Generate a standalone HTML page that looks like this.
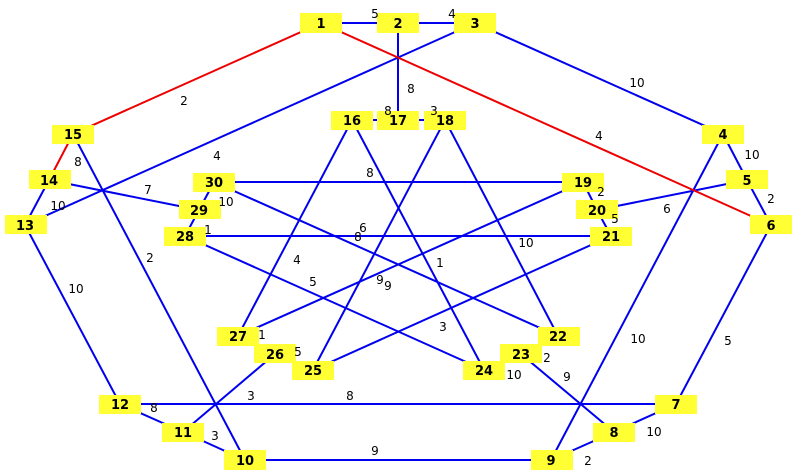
<!DOCTYPE html>
<html><head><style>body{margin:0;background:#fff}svg{display:block}</style></head><body>
<svg width="798" height="475" xmlns="http://www.w3.org/2000/svg" font-family="DejaVu Sans, Liberation Sans, sans-serif">
<g stroke="#0000ee" stroke-width="2" fill="none">
<line x1="321" y1="23" x2="398" y2="23"/><line x1="398" y1="23" x2="475" y2="23"/>
<line x1="398" y1="23" x2="398" y2="120"/><line x1="475" y1="23" x2="723" y2="134"/>
<line x1="475" y1="23" x2="25" y2="225"/><line x1="73" y1="134" x2="245" y2="460"/>
<line x1="49" y1="180" x2="25" y2="225"/><line x1="49" y1="180" x2="199" y2="210"/>
<line x1="25" y1="225" x2="120" y2="404"/><line x1="120" y1="404" x2="676" y2="404"/>
<line x1="120" y1="404" x2="183" y2="432"/><line x1="183" y1="432" x2="275" y2="354"/>
<line x1="183" y1="432" x2="245" y2="460"/><line x1="245" y1="460" x2="551" y2="460"/>
<line x1="551" y1="460" x2="614" y2="432"/><line x1="614" y1="432" x2="676" y2="404"/>
<line x1="676" y1="404" x2="771" y2="225"/><line x1="771" y1="225" x2="747" y2="180"/>
<line x1="747" y1="180" x2="723" y2="134"/><line x1="723" y1="134" x2="551" y2="460"/>
<line x1="747" y1="180" x2="597" y2="210"/><line x1="521" y1="354" x2="614" y2="432"/>
<line x1="352" y1="120" x2="445" y2="120"/>
<line x1="352" y1="120" x2="238" y2="336"/><line x1="352" y1="120" x2="484" y2="370"/>
<line x1="445" y1="120" x2="313" y2="370"/><line x1="445" y1="120" x2="558" y2="336"/>
<line x1="214" y1="182" x2="583" y2="182"/><line x1="214" y1="182" x2="558" y2="336"/>
<line x1="583" y1="182" x2="238" y2="336"/><line x1="583" y1="182" x2="597" y2="210"/>
<line x1="597" y1="210" x2="611" y2="236"/><line x1="611" y1="236" x2="185" y2="236"/>
<line x1="611" y1="236" x2="313" y2="370"/><line x1="185" y1="236" x2="484" y2="370"/>
<line x1="214" y1="182" x2="199" y2="210"/><line x1="199" y1="210" x2="185" y2="236"/>
<line x1="558" y1="336" x2="521" y2="354"/><line x1="521" y1="354" x2="484" y2="370"/>
<line x1="238" y1="336" x2="275" y2="354"/><line x1="275" y1="354" x2="313" y2="370"/>
</g>
<g stroke="#ee0000" stroke-width="2">
<line x1="321" y1="23" x2="73" y2="134"/><line x1="321" y1="23" x2="771" y2="225"/>
<line x1="73" y1="134" x2="49" y2="180"/>
</g>
<g fill="#ffff33">
<rect x="300" y="13" width="42" height="20"/><rect x="377" y="13" width="42" height="20"/><rect x="454" y="13" width="42" height="20"/>
<rect x="702" y="125" width="42" height="19"/><rect x="726" y="170" width="42" height="19"/><rect x="750" y="215" width="42" height="19"/>
<rect x="655" y="395" width="42" height="19"/><rect x="593" y="423" width="42" height="19"/><rect x="531" y="450" width="42" height="20"/>
<rect x="224" y="450" width="42" height="20"/><rect x="162" y="423" width="42" height="19"/><rect x="99" y="395" width="42" height="19"/>
<rect x="5" y="215" width="42" height="19"/><rect x="29" y="170" width="42" height="19"/><rect x="52" y="125" width="42" height="19"/>
<rect x="331" y="111" width="42" height="19"/><rect x="377" y="111" width="42" height="19"/><rect x="424" y="111" width="42" height="19"/>
<rect x="562" y="173" width="42" height="19"/><rect x="576" y="200" width="42" height="19"/><rect x="590" y="227" width="42" height="19"/>
<rect x="538" y="327" width="42" height="19"/><rect x="500" y="344" width="42" height="19"/><rect x="463" y="361" width="42" height="19"/>
<rect x="292" y="361" width="42" height="19"/><rect x="254" y="344" width="42" height="19"/><rect x="217" y="327" width="42" height="19"/>
<rect x="164" y="227" width="42" height="19"/><rect x="179" y="200" width="42" height="19"/><rect x="193" y="173" width="42" height="19"/>
</g>
<g font-weight="bold" font-size="13" text-anchor="middle" fill="#000">
<text x="321" y="28">1</text><text x="398" y="28">2</text><text x="475" y="28">3</text>
<text x="723" y="139">4</text><text x="747" y="185">5</text><text x="771" y="230">6</text>
<text x="676" y="409">7</text><text x="614" y="437">8</text><text x="551" y="465">9</text>
<text x="245" y="465">10</text><text x="183" y="437">11</text><text x="120" y="409">12</text>
<text x="25" y="230">13</text><text x="49" y="185">14</text><text x="73" y="139">15</text>
<text x="352" y="125">16</text><text x="398" y="125">17</text><text x="445" y="125">18</text>
<text x="583" y="187">19</text><text x="597" y="215">20</text><text x="611" y="241">21</text>
<text x="558" y="341">22</text><text x="521" y="359">23</text><text x="484" y="375">24</text>
<text x="313" y="375">25</text><text x="275" y="359">26</text><text x="238" y="341">27</text>
<text x="185" y="241">28</text><text x="199" y="215">29</text><text x="214" y="187">30</text>
</g>
<g font-size="12" fill="#000" text-anchor="middle">
<text x="375" y="18">5</text><text x="452" y="18">4</text><text x="411" y="93">8</text>
<text x="637" y="87">10</text><text x="184" y="105">2</text><text x="599" y="140">4</text>
<text x="78" y="166">8</text><text x="217" y="160">4</text><text x="148" y="194">7</text>
<text x="58" y="210">10</text><text x="226" y="206">10</text><text x="208" y="234">1</text>
<text x="752" y="159">10</text><text x="771" y="203">2</text><text x="601" y="196">2</text>
<text x="615" y="223">5</text><text x="667" y="213">6</text><text x="370" y="177">8</text>
<text x="388" y="115">8</text><text x="434" y="115">3</text>
<text x="363" y="232">6</text><text x="358" y="241">8</text><text x="526" y="247">10</text>
<text x="150" y="262">2</text><text x="297" y="264">4</text><text x="440" y="267">1</text>
<text x="76" y="293">10</text><text x="313" y="286">5</text><text x="380" y="284">9</text><text x="388" y="290">9</text>
<text x="443" y="331">3</text><text x="262" y="339">1</text><text x="298" y="356">5</text>
<text x="638" y="343">10</text><text x="728" y="345">5</text><text x="547" y="362">2</text>
<text x="514" y="379">10</text><text x="567" y="381">9</text><text x="251" y="400">3</text>
<text x="350" y="400">8</text><text x="154" y="412">8</text><text x="215" y="440">3</text>
<text x="654" y="436">10</text><text x="375" y="455">9</text><text x="588" y="465">2</text>
</g>
</svg>
</body></html>
